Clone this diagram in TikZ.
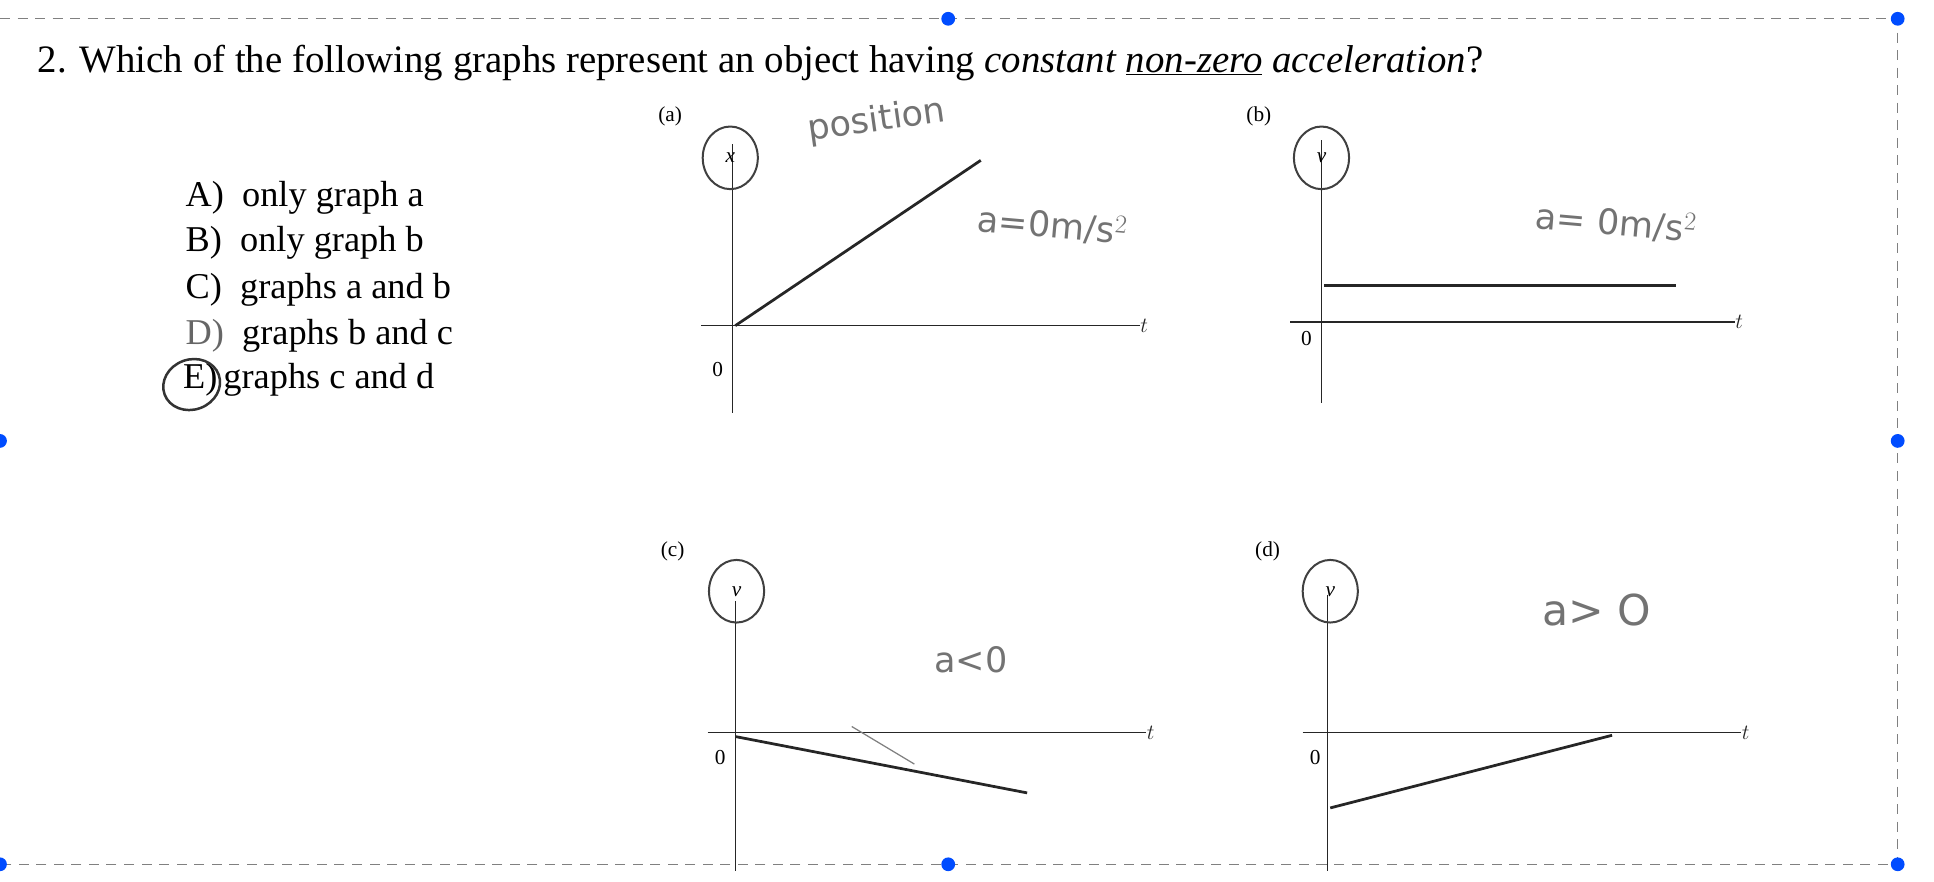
\documentclass[tikz,border=0pt]{standalone}
\usepackage{fontspec}
\usetikzlibrary{shapes.geometric}
\setmainfont{Liberation Serif}
\newfontfamily\hand{DejaVu Sans}[Scale=1]
\begin{document}
\begin{tikzpicture}[x=1pt,y=-1pt,
  dot/.style={circle,fill=blue!70!cyan,inner sep=0pt,minimum size=11pt},
  ax/.style={line width=1pt,black!85},
  plot/.style={line width=2.2pt,black!85},
  lab/.style={font=\fontsize{17}{18}\selectfont,inner sep=0pt},
  circ/.style={draw=black!75,line width=1.6pt,ellipse,minimum width=44pt,minimum height=50pt,inner sep=0pt},
  hw/.style={font=\hand\fontsize{28}{28}\selectfont,text=black!55,inner sep=0pt},
  opt/.style={anchor=west,font=\fontsize{29}{30}\selectfont,inner sep=0pt}]
\useasboundingbox (0,0) rectangle (1544,704);
% border
\coordinate (tl) at (0,15); \coordinate (tr) at (1515,15);
\coordinate (bl) at (0,690); \coordinate (br) at (1515,690);
\draw[dashed,gray,line width=0.8pt,dash pattern=on 8pt off 6pt] (tl) -- (tr) -- (br) -- (bl);
\foreach \p/\n in {{757,15}/d1,{1515,15}/d2,{0,352}/d3,{1515,352}/d4,{0,690}/d5,{757,690}/d6,{1515,690}/d7}
  \node[dot] (\n) at (\p) {};
% title
\node[anchor=west,font=\fontsize{31}{32}\selectfont,inner sep=0pt] (title) at (30,50)
 {2. Which of the following graphs represent an object having \textit{constant \underline{non-zero} acceleration}?};
% options
\node[opt] (oA) at (148,158) {A)\ \ only graph a};
\node[opt] (oB) at (148,194) {B)\ \ only graph b};
\node[opt] (oC) at (148,231) {C)\ \ graphs a and b};
\node[opt] (oD) at (148,268) {\textcolor{black!60}{D)}\ \ graphs b and c};
\node[opt] (oE) at (146,303) {E)\,graphs c and d};
\node[draw=black!80,line width=2pt,ellipse,minimum width=46pt,minimum height=40pt,rotate=20] (cE) at (153,307) {};
% graph a
\node[lab] (la) at (535,93) {(a)};
\coordinate (a0) at (587,260);
\draw[ax] (585,115) -- (585,330);
\draw[ax] (560,260) -- (910,260) node[lab,right,font=\itshape\fontsize{17}{18}\selectfont] (ta) {$t$};
\node[lab] (za) at (573,295) {0};
\node[circ] (ca) at (583,126) {\fontsize{17}{18}\selectfont\itshape x};
\coordinate (a1) at (783,128);
\draw[plot] (a0) -- (a1);
\node[hw,rotate=8] (pa) at (700,97) {position};
\node[hw,rotate=-5] (aa) at (840,180) {a=0m/s$^{2}$};
% graph b
\node[lab] (lb) at (1005,93) {(b)};
\draw[ax] (1055,112) -- (1055,322);
\draw[ax] (1030,257) -- (1385,257) node[lab,right,font=\itshape\fontsize{17}{18}\selectfont] (tb) {$t$};
\node[lab] (zb) at (1043,270) {0};
\node[circ] (cb) at (1055,126) {\fontsize{17}{18}\selectfont\itshape v};
\coordinate (b0) at (1057,228); \coordinate (b1) at (1338,228);
\draw[plot] (b0) -- (b1);
\node[hw,rotate=-5] (ab) at (1290,178) {a= 0m/s$^{2}$};
% graph c
\node[lab] (lc) at (537,440) {(c)};
\draw[ax] (587,480) -- (587,695);
\draw[ax] (565,585) -- (915,585) node[lab,right,font=\itshape\fontsize{17}{18}\selectfont] (tc) {$t$};
\node[lab] (zc) at (575,605) {0};
\node[circ] (cc) at (588,472) {\fontsize{17}{18}\selectfont\itshape v};
\coordinate (c0) at (587,588); \coordinate (c1) at (820,633);
\draw[plot] (c0) -- (c1);
\coordinate (s1) at (680,580); \coordinate (s2) at (730,610);
\draw[black!50,line width=1pt] (s1) -- (s2);
\node[hw] (ac) at (775,527) {a<0};
% graph d
\node[lab] (ld) at (1012,440) {(d)};
\draw[ax] (1060,475) -- (1060,695);
\draw[ax] (1040,585) -- (1390,585) node[lab,right,font=\itshape\fontsize{17}{18}\selectfont] (td) {$t$};
\node[lab] (zd) at (1050,605) {0};
\node[circ] (cd) at (1062,472) {\fontsize{17}{18}\selectfont\itshape v};
\coordinate (d0) at (1062,645); \coordinate (d1) at (1287,587);
\draw[plot] (d0) -- (d1);
\node[hw,font=\hand\fontsize{34}{34}\selectfont] (ad) at (1275,487) {a> O};
\end{tikzpicture}
\end{document}
